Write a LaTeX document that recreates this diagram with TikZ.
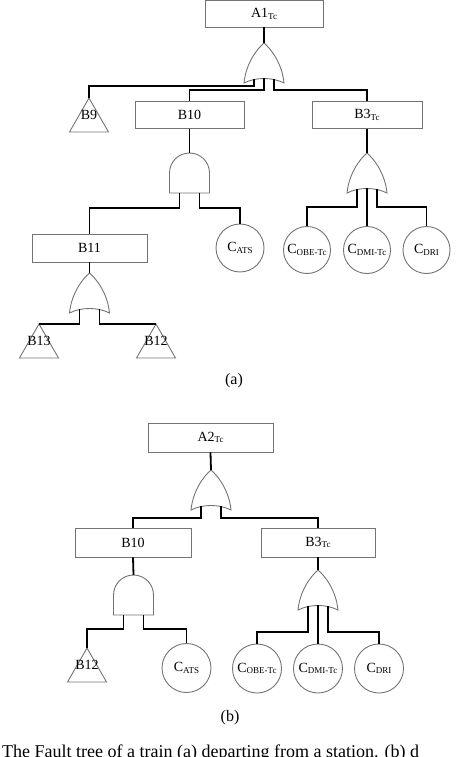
\documentclass[tikz,border=0pt]{standalone}
\usepackage{fontspec}
\setmainfont{Liberation Serif}
\newcommand{\lowtxt}[1]{\raisebox{-1.5pt}{\fontsize{9}{9}\selectfont #1}}
\begin{document}
\begin{tikzpicture}[x=1pt,y=-1pt,
  box/.style={draw=black!55,line width=0.9pt,minimum width=#1,minimum height=27,inner sep=0,font=\fontsize{14}{16}\selectfont},
  basic/.style={draw=black!55,line width=0.9pt,circle,minimum size=48,inner sep=0,font=\fontsize{14}{16}\selectfont},
  gate/.style={draw=black!55,line width=0.9pt},
  link/.style={line width=1.8pt},
  lbl/.style={inner sep=0,font=\fontsize{14}{16}\selectfont},
  orgate/.pic={\draw[gate] (0,0) .. controls (7,6) and (18,20) .. (20,40) .. controls (8,34) and (-8,34) .. (-20,40) .. controls (-18,20) and (-7,6) .. (0,0);
    \coordinate (-top) at (0,0); \coordinate (-l) at (-10,36); \coordinate (-m) at (0,35); \coordinate (-r) at (10,36);},
  andgate/.pic={\draw[gate] (-20,40) -- (-20,20) arc[start angle=180,end angle=360,radius=20] -- (20,40) -- cycle;
    \coordinate (-top) at (0,0); \coordinate (-l) at (-10,40); \coordinate (-r) at (10,40);},
  event/.pic={\draw[gate] (0,0) -- (19.5,34) -- (-19.5,34) -- cycle; \node[lbl] (-lbl) at (0,17) {#1};
    \coordinate (-top) at (0,0);}]
\useasboundingbox (0,0) rectangle (474,757);

% (a)
\node[box=118,minimum height=26.5] (A1) at (264,13.75) {A1\lowtxt{Tc}};
\pic (g1) at (264,43) {orgate};
\pic (B9) at (89,98) {event=B9};
\node[box=109] (B10a) at (189.5,115) {B10};
\node[box=110] (B3a) at (367,115) {B3\lowtxt{Tc}};
\pic (g2) at (189.5,153) {andgate};
\pic (g3) at (367,153) {orgate};
\node[box=115,minimum height=28] (B11) at (89.5,248) {B11};
\node[basic] (Catsa) at (240,248) {C\lowtxt{ATS}};
\node[basic,minimum size=47] (Cobea) at (307,250) {C\lowtxt{OBE-Tc}};
\node[basic,minimum size=47] (Cdmia) at (367,250) {C\lowtxt{DMI-Tc}};
\node[basic,minimum size=47] (Cdria) at (426.5,250) {C\lowtxt{DRI}};
\pic (g4) at (89.5,273) {orgate};
\pic (B13) at (39,324) {event=B13};
\pic (B12a) at (156,324) {event=B12};
\node[lbl,font=\fontsize{16}{18}\selectfont] (capa) at (234,381) {(a)};

\draw[link] (A1.south) -- (g1-top);
\draw[link] (g1-l) -- ++(0,7) -| (B9-top);
\draw[link] (g1-m) -- ++(0,12) -| (B10a.north);
\draw[link] (g1-r) -- ++(0,11) -| (B3a.north);
\draw[link] (B10a.south) -- (g2-top);
\draw[link] (g2-l) -- ++(0,15) -| (B11.north);
\draw[link] (g2-r) -- ++(0,15) -| (Catsa.north);
\draw[link] (B3a.south) -- (g3-top);
\draw[link] (g3-l) -- ++(0,18) -| (Cobea.north);
\draw[link] (g3-m) -- (Cdmia.north);
\draw[link] (g3-r) -- ++(0,18) -| (Cdria.north);
\draw[link] (B11.south) -- (g4-top);
\draw[link] (g4-l) -- ++(0,15) -| (B13-top);
\draw[link] (g4-r) -- ++(0,15) -| (B12a-top);

% (b)
\node[box=125,minimum height=29] (A2) at (210.5,437.5) {A2\lowtxt{Tc}};
\pic (g5) at (211,470) {orgate};
\node[box=116,minimum height=29] (B10b) at (133,542.5) {B10};
\node[box=114,minimum height=29] (B3b) at (318,542.5) {B3\lowtxt{Tc}};
\pic (g6) at (133.5,575) {andgate};
\pic (g7) at (318,570) {orgate};
\pic (B12b) at (87,648) {event=B12};
\node[basic,minimum size=49] (Catsb) at (186.5,668) {C\lowtxt{ATS}};
\foreach \n/\x/\t in {Cobeb/257/OBE-Tc,Cdmib/318/DMI-Tc,Cdrib/379/DRI}
  \node[basic,minimum size=49] (\n) at (\x,668.5) {C\lowtxt{\t}};
\node[lbl,font=\fontsize{16}{18}\selectfont] (capb) at (230,718) {(b)};

\draw[link] (A2.south) -- (g5-top);
\draw[link] (g5-l) -- ++(0,12) -| (B10b.north);
\draw[link] (g5-r) -- ++(0,12) -| (B3b.north);
\draw[link] (B10b.south) -- (g6-top);
\draw[link] (g6-l) -- ++(0,14) -| (B12b-top);
\draw[link] (g6-r) -- ++(0,14) -| (Catsb.north);
\draw[link] (B3b.south) -- (g7-top);
\draw[link] (g7-l) -- ++(0,26) -| (Cobeb.north);
\draw[link] (g7-m) -- (Cdmib.north);
\draw[link] (g7-r) -- ++(0,26) -| (Cdrib.north);

\node[lbl,anchor=base west,font=\fontsize{18}{20}\selectfont] (caption) at (2,757) {The Fault tree of a train (a) departing from a station. (b) d};
\end{tikzpicture}
\end{document}
